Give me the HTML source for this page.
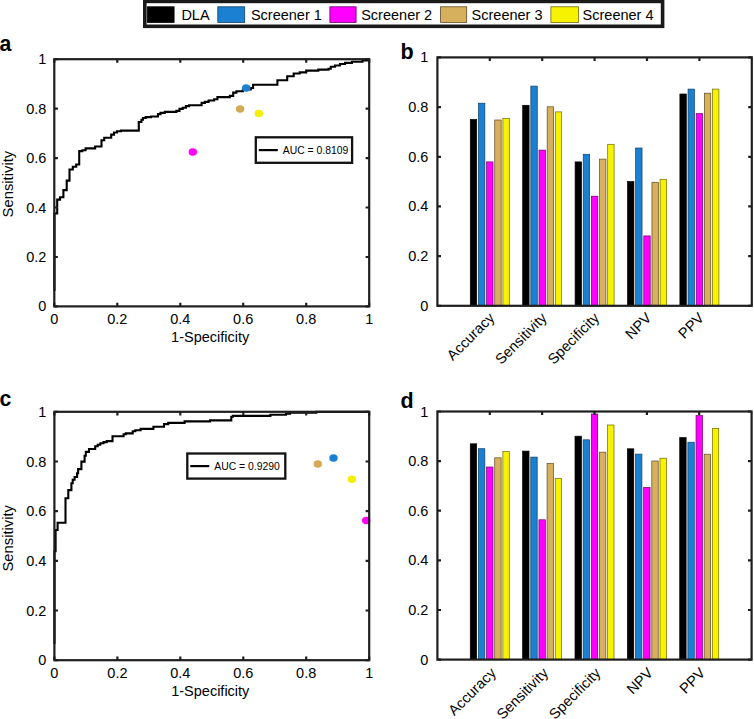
<!DOCTYPE html>
<html><head><meta charset="utf-8"><title>ROC and bar charts</title>
<style>
html,body{margin:0;padding:0;background:#fff;}
body{width:754px;height:719px;overflow:hidden;font-family:"Liberation Sans", sans-serif;}
svg{display:block;}
</style></head><body>
<svg width="754" height="719" viewBox="0 0 754 719" font-family='"Liberation Sans", sans-serif' fill="#000">
<rect width="754" height="719" fill="#fff"/>
<rect x="144.8" y="1.4" width="517.8" height="24.9" fill="#fff" stroke="#1a1a1a" stroke-width="3.6"/>
<rect x="147.3" y="6.8" width="26.8" height="15.6" fill="#000000" stroke="#000000" stroke-width="0.8"/>
<text x="181.4" y="19.9" font-size="14.5" text-anchor="start" font-weight="normal" >DLA</text>
<rect x="217.8" y="6.8" width="26.9" height="15.6" fill="#1b80d2" stroke="#0f3f66" stroke-width="0.8"/>
<text x="250.9" y="19.9" font-size="14.5" text-anchor="start" font-weight="normal" >Screener 1</text>
<rect x="329.9" y="6.8" width="26.2" height="15.6" fill="#ff00ff" stroke="#6a006a" stroke-width="0.8"/>
<text x="361.2" y="19.9" font-size="14.5" text-anchor="start" font-weight="normal" >Screener 2</text>
<rect x="440.6" y="6.8" width="26.1" height="15.6" fill="#d6b05c" stroke="#5e4a22" stroke-width="0.8"/>
<text x="471.6" y="19.9" font-size="14.5" text-anchor="start" font-weight="normal" >Screener 3</text>
<rect x="550.9" y="6.8" width="27.5" height="15.6" fill="#f6f200" stroke="#6e6a00" stroke-width="0.8"/>
<text x="582.6" y="19.9" font-size="14.5" text-anchor="start" font-weight="normal" >Screener 4</text>
<path d="M54.5 291.0 V213.5 H57.2 V199.6 H60.0 V197.3 H63.4 V190.1 H66.7 V180.6 H69.5 V169.5 H72.8 V166.7 H76.2 V164.5 H79.2 V151.1 H82.3 V150.2 H85.6 V148.4 H95.1 V146.5 H101.5 V140.2 H104.2 V137.8 H111.2 V134.6 H114.0 V132.5 H117.0 V131.2 H121.0 V130.6 H138.8 V122.0 H141.4 V119.7 H143.0 V118.0 H145.7 V117.1 H150.9 V116.5 H158.0 V114.1 H160.5 V112.9 H164.8 V111.9 H176.4 V110.9 H179.5 V108.9 H182.7 V107.7 H185.9 V106.1 H189.1 V105.2 H201.6 V102.9 H204.9 V101.9 H208.6 V100.5 H214.1 V99.3 H217.4 V97.1 H229.9 V95.9 H233.2 V92.6 H236.4 V91.2 H242.9 V89.5 H250.8 V88.0 H253.1 V84.7 H277.4 V80.3 H287.2 V76.3 H293.7 V73.5 H299.7 V72.4 H306.2 V70.6 H318.3 V69.6 H328.5 V68.7 H330.8 V66.7 H335.0 V65.5 H340.0 V64.0 H345.0 V62.9 H352.0 V61.8 H362.5 V60.4 H369.0 V59.2" stroke="#000" stroke-width="2.1" fill="none" stroke-linejoin="miter"/>
<ellipse cx="246.2" cy="88.1" rx="4.2" ry="3.75" fill="#1b80d2"/>
<ellipse cx="192.8" cy="151.9" rx="4.2" ry="3.75" fill="#ff00ff"/>
<ellipse cx="240.1" cy="108.9" rx="4.2" ry="3.75" fill="#d3aa52"/>
<ellipse cx="258.8" cy="113.4" rx="4.2" ry="3.75" fill="#f4ee00"/>
<rect x="54.3" y="59.2" width="314.9" height="247.2" fill="none" stroke="#1e1e1e" stroke-width="2.2"/>
<path d="M54.3 306.4 V302.8 M54.3 59.2 V62.8 M117.3 306.4 V302.8 M117.3 59.2 V62.8 M180.3 306.4 V302.8 M180.3 59.2 V62.8 M243.2 306.4 V302.8 M243.2 59.2 V62.8 M306.2 306.4 V302.8 M306.2 59.2 V62.8 M369.2 306.4 V302.8 M369.2 59.2 V62.8 M54.3 306.4 H57.9 M369.2 306.4 H365.6 M54.3 257.0 H57.9 M369.2 257.0 H365.6 M54.3 207.5 H57.9 M369.2 207.5 H365.6 M54.3 158.1 H57.9 M369.2 158.1 H365.6 M54.3 108.6 H57.9 M369.2 108.6 H365.6 M54.3 59.2 H57.9 M369.2 59.2 H365.6 " stroke="#1e1e1e" stroke-width="2.2" fill="none"/>
<rect x="255.8" y="137.3" width="96.3" height="25.5" fill="#fff" stroke="#111" stroke-width="2.3"/>
<path d="M258.8 150.1 H277.8" stroke="#000" stroke-width="2.2"/>
<text x="282.8" y="154.4" font-size="10.4" text-anchor="start" font-weight="normal" >AUC = 0.8109</text>
<text x="54.3" y="324.4" font-size="14.5" text-anchor="middle" font-weight="normal" >0</text>
<text x="117.3" y="324.4" font-size="14.5" text-anchor="middle" font-weight="normal" >0.2</text>
<text x="180.3" y="324.4" font-size="14.5" text-anchor="middle" font-weight="normal" >0.4</text>
<text x="243.2" y="324.4" font-size="14.5" text-anchor="middle" font-weight="normal" >0.6</text>
<text x="306.2" y="324.4" font-size="14.5" text-anchor="middle" font-weight="normal" >0.8</text>
<text x="369.2" y="324.4" font-size="14.5" text-anchor="middle" font-weight="normal" >1</text>
<text x="46.3" y="311.4" font-size="14.5" text-anchor="end" font-weight="normal" >0</text>
<text x="46.3" y="262.0" font-size="14.5" text-anchor="end" font-weight="normal" >0.2</text>
<text x="46.3" y="212.5" font-size="14.5" text-anchor="end" font-weight="normal" >0.4</text>
<text x="46.3" y="163.1" font-size="14.5" text-anchor="end" font-weight="normal" >0.6</text>
<text x="46.3" y="113.6" font-size="14.5" text-anchor="end" font-weight="normal" >0.8</text>
<text x="46.3" y="64.2" font-size="14.5" text-anchor="end" font-weight="normal" >1</text>
<text x="210.2" y="341.9" font-size="14.5" text-anchor="middle" font-weight="normal" >1-Specificity</text>
<text x="0" y="0" font-size="14.8" text-anchor="middle" transform="translate(13 184.1) rotate(-90)">Sensitivity</text>
<text x="-0.5" y="51.0" font-size="21.2" text-anchor="start" font-weight="bold" >a</text>
<path d="M54.5 644.0 V551.2 H55.6 V530.0 H57.6 V522.7 H65.5 V498.3 H68.3 V490.1 H71.4 V483.2 H72.7 V479.8 H74.6 V477.0 H77.1 V473.2 H78.1 V469.1 H81.4 V461.6 H84.6 V455.7 H85.8 V451.9 H89.0 V449.0 H95.2 V446.3 H97.7 V444.8 H100.3 V443.2 H103.5 V442.1 H106.7 V441.1 H112.5 V436.3 H123.6 V434.2 H125.8 V433.4 H132.7 V431.3 H135.3 V430.3 H140.6 V428.9 H153.4 V426.8 H164.0 V424.1 H168.2 V422.9 H184.6 V421.4 H210.1 V420.4 H231.3 V416.7 H232.9 V415.9 H270.4 V414.7 H286.0 V413.7 H290.1 V412.6 H316.4 V411.9 H369.2" stroke="#000" stroke-width="2.1" fill="none" stroke-linejoin="miter"/>
<ellipse cx="333.5" cy="458.1" rx="4.2" ry="3.75" fill="#1b80d2"/>
<ellipse cx="366.2" cy="520.4" rx="4.2" ry="3.75" fill="#ff00ff"/>
<ellipse cx="317.8" cy="463.9" rx="4.2" ry="3.75" fill="#d3aa52"/>
<ellipse cx="351.9" cy="479.2" rx="4.2" ry="3.75" fill="#f4ee00"/>
<rect x="54.4" y="411.8" width="314.8" height="248.4" fill="none" stroke="#1e1e1e" stroke-width="2.2"/>
<path d="M54.4 660.2 V656.6 M54.4 411.8 V415.4 M117.4 660.2 V656.6 M117.4 411.8 V415.4 M180.3 660.2 V656.6 M180.3 411.8 V415.4 M243.3 660.2 V656.6 M243.3 411.8 V415.4 M306.2 660.2 V656.6 M306.2 411.8 V415.4 M369.2 660.2 V656.6 M369.2 411.8 V415.4 M54.4 660.2 H58.0 M369.2 660.2 H365.6 M54.4 610.5 H58.0 M369.2 610.5 H365.6 M54.4 560.8 H58.0 M369.2 560.8 H365.6 M54.4 511.2 H58.0 M369.2 511.2 H365.6 M54.4 461.5 H58.0 M369.2 461.5 H365.6 M54.4 411.8 H58.0 M369.2 411.8 H365.6 " stroke="#1e1e1e" stroke-width="2.2" fill="none"/>
<rect x="187.3" y="453.5" width="98.0" height="25.1" fill="#fff" stroke="#111" stroke-width="2.3"/>
<path d="M190.3 466.1 H209.3" stroke="#000" stroke-width="2.2"/>
<text x="214.3" y="470.4" font-size="10.4" text-anchor="start" font-weight="normal" >AUC = 0.9290</text>
<text x="54.4" y="678.2" font-size="14.5" text-anchor="middle" font-weight="normal" >0</text>
<text x="117.4" y="678.2" font-size="14.5" text-anchor="middle" font-weight="normal" >0.2</text>
<text x="180.3" y="678.2" font-size="14.5" text-anchor="middle" font-weight="normal" >0.4</text>
<text x="243.3" y="678.2" font-size="14.5" text-anchor="middle" font-weight="normal" >0.6</text>
<text x="306.2" y="678.2" font-size="14.5" text-anchor="middle" font-weight="normal" >0.8</text>
<text x="369.2" y="678.2" font-size="14.5" text-anchor="middle" font-weight="normal" >1</text>
<text x="46.4" y="665.2" font-size="14.5" text-anchor="end" font-weight="normal" >0</text>
<text x="46.4" y="615.5" font-size="14.5" text-anchor="end" font-weight="normal" >0.2</text>
<text x="46.4" y="565.8" font-size="14.5" text-anchor="end" font-weight="normal" >0.4</text>
<text x="46.4" y="516.2" font-size="14.5" text-anchor="end" font-weight="normal" >0.6</text>
<text x="46.4" y="466.5" font-size="14.5" text-anchor="end" font-weight="normal" >0.8</text>
<text x="46.4" y="416.8" font-size="14.5" text-anchor="end" font-weight="normal" >1</text>
<text x="210.3" y="695.7" font-size="14.5" text-anchor="middle" font-weight="normal" >1-Specificity</text>
<text x="0" y="0" font-size="14.8" text-anchor="middle" transform="translate(13 538.3) rotate(-90)">Sensitivity</text>
<text x="-0.5" y="406.4" font-size="21.2" text-anchor="start" font-weight="bold" >c</text>
<rect x="470.30" y="119.50" width="6.40" height="186.30" fill="#000000" stroke="#000000" stroke-width="0.7"/>
<rect x="478.45" y="103.20" width="6.40" height="202.60" fill="#1b80d2" stroke="#0f3f66" stroke-width="0.7"/>
<rect x="486.60" y="161.90" width="6.40" height="143.90" fill="#ff00ff" stroke="#6a006a" stroke-width="0.7"/>
<rect x="494.75" y="120.00" width="6.40" height="185.80" fill="#d6b05c" stroke="#5e4a22" stroke-width="0.7"/>
<rect x="502.90" y="118.30" width="6.40" height="187.50" fill="#f6f200" stroke="#6e6a00" stroke-width="0.7"/>
<rect x="522.70" y="105.30" width="6.40" height="200.50" fill="#000000" stroke="#000000" stroke-width="0.7"/>
<rect x="530.85" y="86.10" width="6.40" height="219.70" fill="#1b80d2" stroke="#0f3f66" stroke-width="0.7"/>
<rect x="539.00" y="150.10" width="6.40" height="155.70" fill="#ff00ff" stroke="#6a006a" stroke-width="0.7"/>
<rect x="547.15" y="106.80" width="6.40" height="199.00" fill="#d6b05c" stroke="#5e4a22" stroke-width="0.7"/>
<rect x="555.30" y="111.90" width="6.40" height="193.90" fill="#f6f200" stroke="#6e6a00" stroke-width="0.7"/>
<rect x="575.10" y="161.90" width="6.40" height="143.90" fill="#000000" stroke="#000000" stroke-width="0.7"/>
<rect x="583.25" y="154.30" width="6.40" height="151.50" fill="#1b80d2" stroke="#0f3f66" stroke-width="0.7"/>
<rect x="591.40" y="196.20" width="6.40" height="109.60" fill="#ff00ff" stroke="#6a006a" stroke-width="0.7"/>
<rect x="599.55" y="159.10" width="6.40" height="146.70" fill="#d6b05c" stroke="#5e4a22" stroke-width="0.7"/>
<rect x="607.70" y="144.30" width="6.40" height="161.50" fill="#f6f200" stroke="#6e6a00" stroke-width="0.7"/>
<rect x="627.50" y="181.60" width="6.40" height="124.20" fill="#000000" stroke="#000000" stroke-width="0.7"/>
<rect x="635.65" y="148.00" width="6.40" height="157.80" fill="#1b80d2" stroke="#0f3f66" stroke-width="0.7"/>
<rect x="643.80" y="235.90" width="6.40" height="69.90" fill="#ff00ff" stroke="#6a006a" stroke-width="0.7"/>
<rect x="651.95" y="182.30" width="6.40" height="123.50" fill="#d6b05c" stroke="#5e4a22" stroke-width="0.7"/>
<rect x="660.10" y="179.50" width="6.40" height="126.30" fill="#f6f200" stroke="#6e6a00" stroke-width="0.7"/>
<rect x="679.90" y="94.00" width="6.40" height="211.80" fill="#000000" stroke="#000000" stroke-width="0.7"/>
<rect x="688.05" y="89.10" width="6.40" height="216.70" fill="#1b80d2" stroke="#0f3f66" stroke-width="0.7"/>
<rect x="696.20" y="113.60" width="6.40" height="192.20" fill="#ff00ff" stroke="#6a006a" stroke-width="0.7"/>
<rect x="704.35" y="93.20" width="6.40" height="212.60" fill="#d6b05c" stroke="#5e4a22" stroke-width="0.7"/>
<rect x="712.50" y="89.10" width="6.40" height="216.70" fill="#f6f200" stroke="#6e6a00" stroke-width="0.7"/>
<rect x="437.4" y="57.4" width="314.4" height="248.4" fill="none" stroke="#1e1e1e" stroke-width="2.2"/>
<path d="M489.8 57.4 V61.0 M542.2 57.4 V61.0 M594.6 57.4 V61.0 M647.0 57.4 V61.0 M699.4 57.4 V61.0 M437.4 305.8 H441.0 M751.8 305.8 H748.2 M437.4 256.1 H441.0 M751.8 256.1 H748.2 M437.4 206.4 H441.0 M751.8 206.4 H748.2 M437.4 156.8 H441.0 M751.8 156.8 H748.2 M437.4 107.1 H441.0 M751.8 107.1 H748.2 M437.4 57.4 H441.0 M751.8 57.4 H748.2 " stroke="#1e1e1e" stroke-width="2.2" fill="none"/>
<text x="428.4" y="310.8" font-size="14.5" text-anchor="end" font-weight="normal" >0</text>
<text x="428.4" y="261.1" font-size="14.5" text-anchor="end" font-weight="normal" >0.2</text>
<text x="428.4" y="211.4" font-size="14.5" text-anchor="end" font-weight="normal" >0.4</text>
<text x="428.4" y="161.8" font-size="14.5" text-anchor="end" font-weight="normal" >0.6</text>
<text x="428.4" y="112.1" font-size="14.5" text-anchor="end" font-weight="normal" >0.8</text>
<text x="428.4" y="62.4" font-size="14.5" text-anchor="end" font-weight="normal" >1</text>
<text x="0" y="0" font-size="14.6" text-anchor="end" transform="translate(495.3 318.8) rotate(-45)">Accuracy</text>
<text x="0" y="0" font-size="14.6" text-anchor="end" transform="translate(547.7 318.8) rotate(-45)">Sensitivity</text>
<text x="0" y="0" font-size="14.6" text-anchor="end" transform="translate(600.1 318.8) rotate(-45)">Specificity</text>
<text x="0" y="0" font-size="14.6" text-anchor="end" transform="translate(652.5 318.8) rotate(-45)">NPV</text>
<text x="0" y="0" font-size="14.6" text-anchor="end" transform="translate(704.9 318.8) rotate(-45)">PPV</text>
<text x="400.4" y="58.9" font-size="21.5" text-anchor="start" font-weight="bold" >b</text>
<rect x="470.27" y="443.80" width="6.40" height="215.80" fill="#000000" stroke="#000000" stroke-width="0.7"/>
<rect x="478.42" y="448.70" width="6.40" height="210.90" fill="#1b80d2" stroke="#0f3f66" stroke-width="0.7"/>
<rect x="486.57" y="467.00" width="6.40" height="192.60" fill="#ff00ff" stroke="#6a006a" stroke-width="0.7"/>
<rect x="494.72" y="457.80" width="6.40" height="201.80" fill="#d6b05c" stroke="#5e4a22" stroke-width="0.7"/>
<rect x="502.87" y="451.60" width="6.40" height="208.00" fill="#f6f200" stroke="#6e6a00" stroke-width="0.7"/>
<rect x="522.63" y="451.10" width="6.40" height="208.50" fill="#000000" stroke="#000000" stroke-width="0.7"/>
<rect x="530.78" y="457.10" width="6.40" height="202.50" fill="#1b80d2" stroke="#0f3f66" stroke-width="0.7"/>
<rect x="538.93" y="519.80" width="6.40" height="139.80" fill="#ff00ff" stroke="#6a006a" stroke-width="0.7"/>
<rect x="547.08" y="463.50" width="6.40" height="196.10" fill="#d6b05c" stroke="#5e4a22" stroke-width="0.7"/>
<rect x="555.23" y="478.50" width="6.40" height="181.10" fill="#f6f200" stroke="#6e6a00" stroke-width="0.7"/>
<rect x="575.00" y="436.20" width="6.40" height="223.40" fill="#000000" stroke="#000000" stroke-width="0.7"/>
<rect x="583.15" y="439.80" width="6.40" height="219.80" fill="#1b80d2" stroke="#0f3f66" stroke-width="0.7"/>
<rect x="591.30" y="414.00" width="6.40" height="245.60" fill="#ff00ff" stroke="#6a006a" stroke-width="0.7"/>
<rect x="599.45" y="452.20" width="6.40" height="207.40" fill="#d6b05c" stroke="#5e4a22" stroke-width="0.7"/>
<rect x="607.60" y="425.00" width="6.40" height="234.60" fill="#f6f200" stroke="#6e6a00" stroke-width="0.7"/>
<rect x="627.37" y="448.80" width="6.40" height="210.80" fill="#000000" stroke="#000000" stroke-width="0.7"/>
<rect x="635.52" y="454.10" width="6.40" height="205.50" fill="#1b80d2" stroke="#0f3f66" stroke-width="0.7"/>
<rect x="643.67" y="487.40" width="6.40" height="172.20" fill="#ff00ff" stroke="#6a006a" stroke-width="0.7"/>
<rect x="651.82" y="461.00" width="6.40" height="198.60" fill="#d6b05c" stroke="#5e4a22" stroke-width="0.7"/>
<rect x="659.97" y="458.20" width="6.40" height="201.40" fill="#f6f200" stroke="#6e6a00" stroke-width="0.7"/>
<rect x="679.73" y="437.60" width="6.40" height="222.00" fill="#000000" stroke="#000000" stroke-width="0.7"/>
<rect x="687.88" y="442.20" width="6.40" height="217.40" fill="#1b80d2" stroke="#0f3f66" stroke-width="0.7"/>
<rect x="696.03" y="415.60" width="6.40" height="244.00" fill="#ff00ff" stroke="#6a006a" stroke-width="0.7"/>
<rect x="704.18" y="454.20" width="6.40" height="205.40" fill="#d6b05c" stroke="#5e4a22" stroke-width="0.7"/>
<rect x="712.33" y="428.40" width="6.40" height="231.20" fill="#f6f200" stroke="#6e6a00" stroke-width="0.7"/>
<rect x="437.4" y="411.5" width="314.2" height="248.1" fill="none" stroke="#1e1e1e" stroke-width="2.2"/>
<path d="M489.8 411.5 V415.1 M542.1 411.5 V415.1 M594.5 411.5 V415.1 M646.9 411.5 V415.1 M699.2 411.5 V415.1 M437.4 659.6 H441.0 M751.6 659.6 H748.0 M437.4 610.0 H441.0 M751.6 610.0 H748.0 M437.4 560.4 H441.0 M751.6 560.4 H748.0 M437.4 510.7 H441.0 M751.6 510.7 H748.0 M437.4 461.1 H441.0 M751.6 461.1 H748.0 M437.4 411.5 H441.0 M751.6 411.5 H748.0 " stroke="#1e1e1e" stroke-width="2.2" fill="none"/>
<text x="428.4" y="664.6" font-size="14.5" text-anchor="end" font-weight="normal" >0</text>
<text x="428.4" y="615.0" font-size="14.5" text-anchor="end" font-weight="normal" >0.2</text>
<text x="428.4" y="565.4" font-size="14.5" text-anchor="end" font-weight="normal" >0.4</text>
<text x="428.4" y="515.7" font-size="14.5" text-anchor="end" font-weight="normal" >0.6</text>
<text x="428.4" y="466.1" font-size="14.5" text-anchor="end" font-weight="normal" >0.8</text>
<text x="428.4" y="416.5" font-size="14.5" text-anchor="end" font-weight="normal" >1</text>
<text x="0" y="0" font-size="14.6" text-anchor="end" transform="translate(496.8 673.9) rotate(-45)">Accuracy</text>
<text x="0" y="0" font-size="14.6" text-anchor="end" transform="translate(549.1 673.9) rotate(-45)">Sensitivity</text>
<text x="0" y="0" font-size="14.6" text-anchor="end" transform="translate(601.5 673.9) rotate(-45)">Specificity</text>
<text x="0" y="0" font-size="14.6" text-anchor="end" transform="translate(653.9 673.9) rotate(-45)">NPV</text>
<text x="0" y="0" font-size="14.6" text-anchor="end" transform="translate(706.2 673.9) rotate(-45)">PPV</text>
<text x="400.4" y="407.5" font-size="21.5" text-anchor="start" font-weight="bold" >d</text>
</svg>
</body></html>
